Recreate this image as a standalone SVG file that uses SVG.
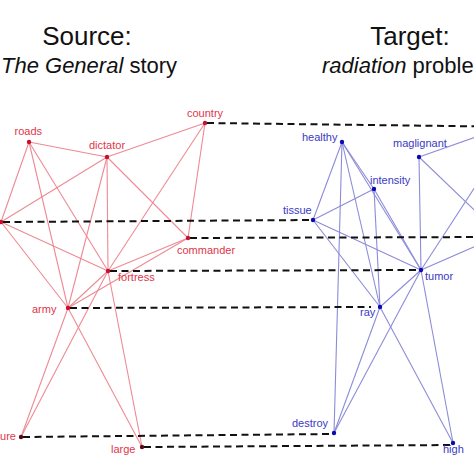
<svg xmlns="http://www.w3.org/2000/svg" width="474" height="474" viewBox="0 0 474 474">
<style>
.title{font-family:"Liberation Sans",Arial,sans-serif;font-size:26px;fill:#111;text-anchor:middle}
.sub{font-family:"Liberation Sans",Arial,sans-serif;font-size:22px;fill:#111}
.it{font-style:italic}
.re{stroke:#ee8a94;stroke-width:1.1;fill:none}
.be{stroke:#8c8cd8;stroke-width:1.1;fill:none}
.map{stroke:#111;stroke-width:2;stroke-dasharray:7 4.5;fill:none}
.rn{fill:#c8102e}
.bn{fill:#0a0ab4}
.rl{font-family:"Liberation Sans",Arial,sans-serif;font-size:11px;fill:#e0364a}
.bl{font-family:"Liberation Sans",Arial,sans-serif;font-size:11px;fill:#3a3ac4}
</style>
<rect width="474" height="474" fill="#fff"/>
<text class="title" x="87" y="45">Source:</text>
<text class="sub" x="1" y="73"><tspan class="it">The General</tspan> story</text>
<text class="title" x="410" y="45">Target:</text>
<text class="sub" x="322" y="73"><tspan class="it">radiation</tspan> proble</text>

<g id="source-edges">
<line class="re" x1="29" y1="142" x2="107" y2="157"/>
<line class="re" x1="107" y1="157" x2="205" y2="123"/>
<line class="re" x1="205" y1="123" x2="188" y2="238"/>
<line class="re" x1="205" y1="123" x2="108" y2="271"/>
<line class="re" x1="107" y1="157" x2="188" y2="238"/>
<line class="re" x1="107" y1="157" x2="108" y2="271"/>
<line class="re" x1="107" y1="157" x2="1" y2="222"/>
<line class="re" x1="29" y1="142" x2="1" y2="222"/>
<line class="re" x1="29" y1="142" x2="68" y2="308"/>
<line class="re" x1="29" y1="142" x2="108" y2="271"/>
<line class="re" x1="1" y1="222" x2="108" y2="271"/>
<line class="re" x1="1" y1="222" x2="68" y2="308"/>
<line class="re" x1="107" y1="157" x2="68" y2="308"/>
<line class="re" x1="108" y1="271" x2="68" y2="308"/>
<line class="re" x1="188" y1="238" x2="68" y2="308"/>
<line class="re" x1="108" y1="271" x2="188" y2="238"/>
<line class="re" x1="21" y1="437" x2="68" y2="308"/>
<line class="re" x1="21" y1="437" x2="108" y2="271"/>
<line class="re" x1="68" y1="308" x2="142" y2="447"/>
<line class="re" x1="108" y1="271" x2="142" y2="447"/>
</g>

<g id="target-edges">
<line class="be" x1="342" y1="142" x2="313" y2="220"/>
<line class="be" x1="342" y1="142" x2="374" y2="189"/>
<line class="be" x1="342" y1="142" x2="421" y2="270"/>
<line class="be" x1="342" y1="142" x2="334" y2="433"/>
<line class="be" x1="342" y1="142" x2="380" y2="307"/>
<line class="be" x1="374" y1="189" x2="313" y2="220"/>
<line class="be" x1="374" y1="189" x2="380" y2="307"/>
<line class="be" x1="374" y1="189" x2="421" y2="270"/>
<line class="be" x1="313" y1="220" x2="421" y2="270"/>
<line class="be" x1="313" y1="220" x2="380" y2="307"/>
<line class="be" x1="419" y1="157" x2="421" y2="270"/>
<line class="be" x1="419" y1="157" x2="490" y2="132"/>
<line class="be" x1="419" y1="157" x2="490" y2="225"/>
<line class="be" x1="421" y1="270" x2="490" y2="164"/>
<line class="be" x1="421" y1="270" x2="490" y2="240"/>
<line class="be" x1="421" y1="270" x2="380" y2="307"/>
<line class="be" x1="421" y1="270" x2="334" y2="433"/>
<line class="be" x1="421" y1="270" x2="453" y2="443"/>
<line class="be" x1="380" y1="307" x2="334" y2="433"/>
<line class="be" x1="380" y1="307" x2="453" y2="443"/>
</g>

<g id="mappings">
<line class="map" x1="207" y1="123" x2="490" y2="126.5"/>
<line class="map" x1="3" y1="222" x2="311" y2="220"/>
<line class="map" x1="190" y1="238" x2="490" y2="237"/>
<line class="map" x1="110" y1="271" x2="419" y2="270"/>
<line class="map" x1="70" y1="308" x2="371" y2="307"/>
<line class="map" x1="23" y1="437" x2="331" y2="434"/>
<line class="map" x1="144" y1="447" x2="451" y2="445"/>
</g>

<g id="node-country"><circle class="rn" cx="205" cy="123" r="2.2" fill="#3a0a10"/><text class="rl" x="187" y="117">country</text></g>
<g id="node-roads"><circle class="rn" cx="29" cy="142" r="2.2"/><text class="rl" x="14.5" y="135">roads</text></g>
<g id="node-dictator"><circle class="rn" cx="107" cy="157" r="2.2"/><text class="rl" x="89" y="149">dictator</text></g>
<g id="node-left"><circle class="rn" cx="1" cy="222" r="2.2"/></g>
<g id="node-commander"><circle class="rn" cx="188" cy="238" r="2.2"/><text class="rl" x="177" y="254">commander</text></g>
<g id="node-fortress"><circle class="rn" cx="108" cy="271" r="2.2"/><text class="rl" x="118" y="281">fortress</text></g>
<g id="node-army"><circle class="rn" cx="68" cy="308" r="2.2"/><text class="rl" x="32" y="313">army</text></g>
<g id="node-capture"><circle class="rn" cx="21" cy="437" r="2.2" style="fill:#5a0a14"/><text class="rl" x="16" y="440" text-anchor="end">ure</text></g>
<g id="node-large"><circle class="rn" cx="142" cy="447" r="2.2" style="fill:#5a0a14"/><text class="rl" x="111" y="453">large</text></g>

<g id="node-healthy"><circle class="bn" cx="342" cy="142" r="2.2"/><text class="bl" x="302" y="141">healthy</text></g>
<g id="node-maglignant"><circle class="bn" cx="419" cy="157" r="2.2"/><text class="bl" x="393" y="147">maglignant</text></g>
<g id="node-intensity"><circle class="bn" cx="374" cy="189" r="2.2"/><text class="bl" x="370" y="184">intensity</text></g>
<g id="node-tissue"><circle class="bn" cx="313" cy="220" r="2.2"/><text class="bl" x="283" y="214">tissue</text></g>
<g id="node-tumor"><circle class="bn" cx="421" cy="270" r="2.2"/><text class="bl" x="425" y="280">tumor</text></g>
<g id="node-ray"><circle class="bn" cx="380" cy="307" r="2.2"/><text class="bl" x="360" y="316">ray</text></g>
<g id="node-destroy"><circle class="bn" cx="334" cy="433" r="2.2"/><text class="bl" x="292" y="427">destroy</text></g>
<g id="node-high"><circle class="bn" cx="453" cy="443" r="2.2"/><text class="bl" x="443" y="453">high</text></g>
</svg>
